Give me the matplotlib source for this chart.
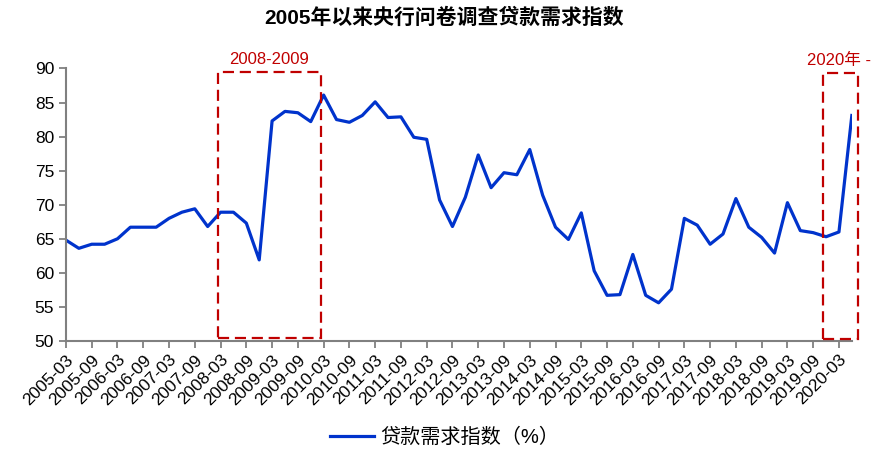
import matplotlib
matplotlib.use('Agg')
import matplotlib.pyplot as plt
from matplotlib.patches import Rectangle

plt.rcParams['font.family'] = ['Liberation Sans', 'Noto Sans CJK SC', 'DejaVu Sans']

# quarterly index, 2005-03 .. 2020-06
quarters = [f'{y}-{m:02d}' for y in range(2005, 2021) for m in (3, 6, 9, 12)][:62]
demand_index = [
    64.8, 63.6, 64.2, 64.2, 65.0, 66.7, 66.7, 66.7, 68.0, 68.9,
    69.4, 66.8, 68.9, 68.9, 67.3, 61.9, 82.3, 83.7, 83.5, 82.2,
    86.1, 82.5, 82.1, 83.1, 85.1, 82.8, 82.9, 79.9, 79.6, 70.7,
    66.8, 71.1, 77.3, 72.5, 74.7, 74.4, 78.1, 71.4, 66.7, 64.9,
    68.8, 60.3, 56.7, 56.8, 62.7, 56.7, 55.6, 57.6, 68.0, 67.0,
    64.2, 65.7, 70.9, 66.7, 65.2, 62.9, 70.3, 66.2, 65.9, 65.3,
    66.0, 83.1,
]
tick_labels = quarters[::2]

# highlighted periods (x in category index, y in index units)
boxes = [
    {'x0': 11.8, 'x1': 19.8, 'y0': 50.5, 'y1': 89.5, 'label': '2008-2009', 'lx': 15.8, 'ha': 'center'},
    {'x0': 58.8, 'x1': 61.5, 'y0': 50.3, 'y1': 89.3, 'label': '2020年 -', 'lx': 57.5, 'ha': 'left'},
]
red = '#C00000'
gray = '#808080'

fig = plt.figure(figsize=(8.89, 4.69), dpi=100)
ax = fig.add_axes([0.0742, 0.273, 0.884, 0.581])

x = range(len(demand_index))
ax.plot(x, demand_index, color='#0033CC', linewidth=2.3, label='贷款需求指数（%）')

ax.set_xlim(0, len(demand_index) - 1)
ax.set_ylim(50, 90)
ax.set_yticks(range(50, 91, 5))
ax.set_xticks(range(0, len(demand_index), 2))
ax.set_xticklabels(tick_labels, rotation=45, ha='right', va='top',
                   rotation_mode='anchor', fontsize=12.5)
ax.tick_params(axis='y', labelsize=12.5, color=gray, width=1.3, length=5)
ax.tick_params(axis='x', color=gray, width=1.3, length=5, pad=3)
for s in ('top', 'right'):
    ax.spines[s].set_visible(False)
for s in ('left', 'bottom'):
    ax.spines[s].set_color(gray)
    ax.spines[s].set_linewidth(1.5)

for b in boxes:
    ax.add_patch(Rectangle((b['x0'], b['y0']), b['x1'] - b['x0'], b['y1'] - b['y0'],
                           fill=False, edgecolor=red, linestyle=(0, (5, 2.6)),
                           linewidth=1.6, clip_on=False, zorder=3))
    ax.text(b['lx'], b['y1'] + 0.7, b['label'], color=red, fontsize=12,
            ha=b['ha'], va='bottom', clip_on=False)

fig.text(0.5, 0.962, '2005年以来央行问卷调查贷款需求指数', ha='center', va='center',
         fontsize=15, fontweight='bold')
fig.legend(loc='center', bbox_to_anchor=(0.5, 0.068), frameon=False,
           fontsize=14.5, handlelength=2.2, handletextpad=0.3)

fig.savefig('out.png', dpi=100, facecolor='white')
